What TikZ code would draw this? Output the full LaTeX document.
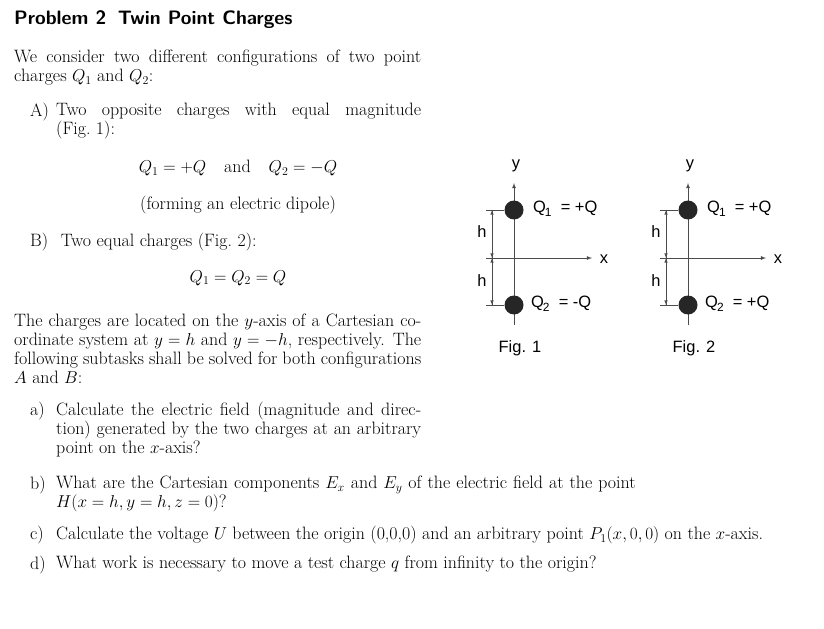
\documentclass[tikz,border=0pt]{standalone}
\usepackage{fontspec}
\usepackage{amsmath}
\newfontfamily\arial{Liberation Sans}
\begin{document}
\begin{tikzpicture}[x=1bp,y=-1bp,
  txt/.style={anchor=north west,inner sep=0pt,align=justify,font=\fontsize{18}{19}\selectfont},
  fig/.style={font=\arial\fontsize{16.5}{18}\selectfont,inner sep=0pt},
  ax/.style={draw=black!70,line width=0.8pt},
  dim/.style={draw=black!70,line width=0.6pt,-latex},
  chg/.style={circle,fill=black!85,minimum size=19bp,inner sep=0pt}]
\useasboundingbox (0,0) rectangle (824,629);
\node[anchor=west,inner sep=0pt,font=\sffamily\bfseries\fontsize{19.5}{22}\selectfont] (title) at (14,20) {Problem 2\hspace{0.6em}Twin Point Charges};
\node[txt,text width=407bp] (p1) at (14,50) {We consider two different configurations of two point charges $Q_1$ and $Q_2$:};
\node[txt,anchor=north west] (la) at (30,103) {A)};
\node[txt,text width=365bp] (pa) at (56,103) {Two opposite charges with equal magnitude (Fig.~1):};
\node[txt,anchor=center] (ea) at (238,168) {$Q_1=+Q\quad\text{and}\quad Q_2=-Q$};
\node[txt,anchor=west] (eb) at (140,205) {(forming an electric dipole)};
\node[txt,anchor=west] (lb) at (30,242) {B)\hspace{0.7em}Two equal charges (Fig.~2):};
\node[txt,anchor=center] (ec) at (238,278) {$Q_1=Q_2=Q$};
\node[txt,text width=407bp] (p2) at (14,314) {The charges are located on the $y$-axis of a Cartesian co\-ordinate system at $y=h$ and $y=-h$, respectively. The following subtasks shall be solved for both configurations $A$ and $B$:};
\node[txt] (l1) at (30,402) {a)};
\node[txt,text width=365bp] (q1) at (56,402) {Calculate the electric field (magnitude and direc\-tion) generated by the two charges at an arbitrary point on the $x$-axis?};
\node[txt] (l2) at (30,476) {b)};
\node[txt,text width=700bp,align=left] (q2) at (56,476) {What are the Cartesian components $E_x$ and $E_y$ of the electric field at the point\\ $H(x=h,y=h,z=0)$?};
\node[txt] (l3) at (30,526) {c)};
\node[txt,align=left] (q3) at (56,526) {Calculate the voltage $U$ between the origin (0,0,0) and an arbitrary point $P_1(x,0,0)$ on the $x$-axis.};
\node[txt] (l4) at (30,556) {d)};
\node[txt,align=left] (q4) at (56,556) {What work is necessary to move a test charge $q$ from infinity to the origin?};
\foreach \ox/\lab/\qb/\n in {0/1/-Q/a,174/2/+Q/b}{
  \begin{scope}[xshift=\ox bp]
  \coordinate (yb\n) at (514,325);
  \coordinate (yt\n) at (514,183);
  \coordinate (xl\n) at (486,258);
  \coordinate (xr\n) at (592,258);
  \draw[ax,-latex] (yb\n) -- (yt\n);
  \draw[ax,-latex] (xl\n) -- (xr\n);
  \node[fig] (ylab\n) at (516,166) {y};
  \node[fig] (xlab\n) at (604,259) {x};
  \node[chg] (c1\n) at (514,210) {};
  \node[chg] (c2\n) at (514,305) {};
  \coordinate (e1\n) at (486,210);
  \coordinate (e2\n) at (486,305);
  \draw[ax] (e1\n) -- (c1\n);
  \draw[ax] (e2\n) -- (c2\n);
  \coordinate (d1\n) at (492,210);
  \coordinate (d0\n) at (492,258);
  \coordinate (d2\n) at (492,305);
  \draw[dim] (d0\n) -- (d1\n);
  \draw[dim] (d1\n) -- (d0\n);
  \draw[dim] (d0\n) -- (d2\n);
  \draw[dim] (d2\n) -- (d0\n);
  \node[fig] (h1\n) at (482,232) {h};
  \node[fig] (h2\n) at (482,281) {h};
  \node[fig,anchor=west] (q1\n) at (533,209) {Q\kern-1pt\raisebox{-4pt}{\fontsize{12}{12}\selectfont 1}\ \ = +Q};
  \node[fig,anchor=west] (q2\n) at (531,304) {Q\kern-1pt\raisebox{-4pt}{\fontsize{12}{12}\selectfont 2}\ \ = \qb};
  \node[fig] (f\n) at (520,348) {Fig. \lab};
  \end{scope}}
\end{tikzpicture}
\end{document}
